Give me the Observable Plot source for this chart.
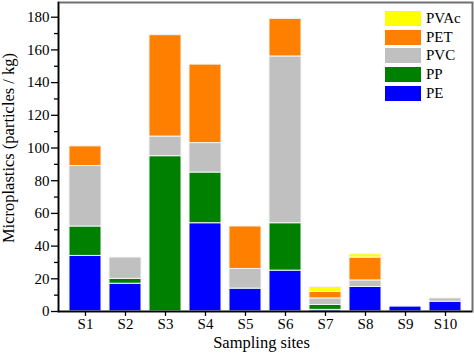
<!DOCTYPE html>
<html><head><meta charset="utf-8">
<script src="https://cdn.jsdelivr.net/npm/d3@7"></script>
<script src="https://cdn.jsdelivr.net/npm/@observablehq/plot@0.6"></script>
<style>
body{margin:0;background:#fff}
#wrap{position:relative;width:474px;height:356px;font-family:"Liberation Serif","Times New Roman",serif}
#wrap svg, #wrap svg g, #wrap svg text{font-family:"Liberation Serif","Times New Roman",serif !important}
#legend{position:absolute;left:385px;top:9px}
.item{display:flex;align-items:center;height:18.7px;font-size:15px;color:#000}
.sw{width:36px;height:15px;margin-right:5px}
</style></head>
<body><div id="wrap"><div id="legend"></div></div>
<script>
const sites = ["S1","S2","S3","S4","S5","S6","S7","S8","S9","S10"];
const PE   = [34,17, 0,54,14, 25,1,15,3,6];
const PP   = [18, 3,95,31, 0, 29,3, 0,0,0];
const PVC  = [37,13,12,18,12,102,4, 4,0,2];
const PET  = [12, 0,62,48,26, 23,4,14,0,0];
const PVAc = [ 0, 0, 0, 0, 0,  0,3, 2,0,0];
const polymers = ["PE","PP","PVC","PET","PVAc"];
const colors = ["#0000ff","#008000","#c0c0c0","#ff8000","#ffff00"];
const legendOrder = ["PVAc","PET","PVC","PP","PE"];
const yMajor = [0,20,40,60,80,100,120,140,160,180];
const yMinor = [10,30,50,70,90,110,130,150,170];

const series = [PE,PP,PVC,PET,PVAc];
const rows = [];
sites.forEach((s,i)=>series.forEach((arr,j)=>{ if(arr[i]>0) rows.push({site:s, polymer:polymers[j], value:arr[i]}); }));

const font = '"Liberation Serif","Times New Roman",serif';
const plot = Plot.plot({
  width:474, height:356,
  marginLeft:58, marginRight:2, marginTop:2, marginBottom:45,
  style:{fontFamily:font, color:"#000", background:"#fff"},
  x:{domain:sites, padding:0.2, label:null},
  y:{domain:[0,189], label:null},
  color:{domain:polymers, range:colors},
  marks:[
    Plot.barY(rows, Plot.stackY({x:"site", y:"value", fill:"polymer", stroke:"#f4f4f4", strokeWidth:1})),
    Plot.frame({stroke:"#707070", strokeWidth:2}),
    Plot.frame({anchor:"left", stroke:"#000", strokeWidth:1.5}),
    Plot.ruleY([0], {stroke:"#000", strokeWidth:1.5}),
    Plot.axisY(yMinor, {tickSize:4, tickFormat:()=>"", strokeWidth:1.3, label:null}),
    Plot.axisY(yMajor, {tickSize:7, tickPadding:2, fontSize:15, fontFamily:font, strokeWidth:1.3, label:null}),
    Plot.axisX({tickSize:5, tickPadding:2, fontSize:15, fontFamily:font, strokeWidth:1.3, label:null}),
    Plot.text(["Microplastics (particles / kg)"], {frameAnchor:"left", textAnchor:"middle", lineAnchor:"middle", rotate:-90, dx:-50, dy:-9, fontSize:16.5, fontFamily:font, fill:"#000"}),
    Plot.text(["Sampling sites"], {frameAnchor:"bottom", textAnchor:"middle", lineAnchor:"bottom", dx:-4, dy:36, fontSize:16.5, fontFamily:font, fill:"#000"})
  ]
});
const wrap = document.getElementById("wrap");
wrap.insertBefore(plot, wrap.firstChild);
const leg = document.getElementById("legend");
legendOrder.forEach(p=>{
  const it = document.createElement("div"); it.className="item";
  const sw = document.createElement("div"); sw.className="sw"; sw.style.background = colors[polymers.indexOf(p)];
  const t = document.createElement("span"); t.textContent = p;
  it.appendChild(sw); it.appendChild(t); leg.appendChild(it);
});
</script>
</body></html>
